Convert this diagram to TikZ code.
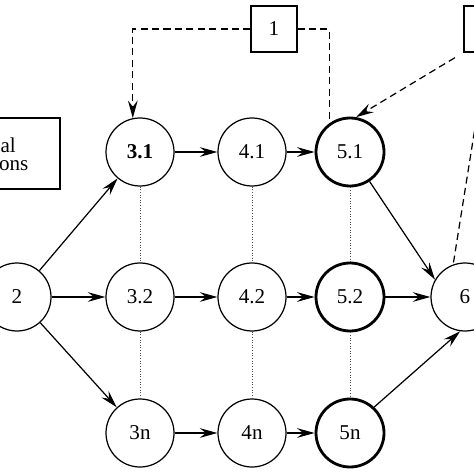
\documentclass[tikz,border=0pt]{standalone}
\usepackage{fontspec}
\setmainfont{Liberation Serif}
\usetikzlibrary{arrows.meta}

\begin{document}
\begin{tikzpicture}[node distance={24.6mm}, line width=0.7pt, >={Stealth[length=10pt, width=5.5pt, inset=3.5pt]},
    main/.style = {draw, circle, minimum size=13.6mm, inner sep=0pt, font=\fontsize{12}{13}\selectfont},
    last/.style = {main, line width=1.6pt},
    task/.style = {draw, minimum size=9.2mm, inner sep=0pt, line width=0.6pt, font=\fontsize{12}{13}\selectfont},
    link/.style = {dash pattern=on 4pt off 2.5pt},
    tie/.style = {densely dotted, line width=0.5pt, black!70}]
        \useasboundingbox (0,0) rectangle (9.48,-9.48);
        \node[main](2) at (0.34,-5.94){2};
        \node[main](32)[right of =2]{3.2};
        \node[main](31)[above of =32, node distance=29mm]{\textbf{3.1}};
        \node[main](3n)[below of =32, node distance=27.2mm]{3n};
        \node[main](42)[right of =32, node distance=22.4mm]{4.2};
        \node[main](41)[right of =31, node distance=22.4mm]{4.1};
        \node[main](4n)[right of =3n, node distance=22.4mm]{4n};
        \node[last](52)[right of =42, node distance=19.6mm]{5.2};
        \node[last](51)[right of =41, node distance=19.6mm]{5.1};
        \node[last](5n)[right of =4n, node distance=19.6mm]{5n};
        \node[main](6)[right of =52, node distance=23mm]{6};
        \node[task](r1) at (5.48,-0.58){1};
        \node[task](r2) at (9.74,-0.58){};
        \node[draw, line width=0.6pt, minimum width=20mm, minimum height=14.2mm](ops) at (0.2,-3.07){};
        \node[anchor=west, inner sep=0pt, font=\fontsize{12}{13}\selectfont](opsa) at (0,-2.9){al};
        \node[anchor=west, inner sep=0pt, font=\fontsize{12}{13}\selectfont](opsb) at (-0.03,-3.32){ons};

        \draw[->] (2) -- (31);
        \draw[->] (2) -- (32);
        \draw[->] (2) -- (3n);
        \draw[->] (31) -- (41);
        \draw[->] (41) -- (51);
        \draw[->] (32) -- (42);
        \draw[->] (42) -- (52);
        \draw[->] (3n) -- (4n);
        \draw[->] (4n) -- (5n);
        \draw[->] (51) -- (6.150);
        \draw[->] (52) -- (6);
        \draw[->] (5n.47) -- (6.-98);
        \draw[tie] (31) -- (32);
        \draw[tie] (32) -- (3n);
        \draw[tie] (41) -- (42);
        \draw[tie] (42) -- (4n);
        \draw[tie] (51) -- (52);
        \draw[tie] (52) -- (5n);
        \draw[->, link] (r1) -| (31.102);
        \draw[link] (r1) -| (51.126);
        \draw[->, link, shorten <=2mm] (r2.south west) -- (51.80);
        \draw[link] (r2.south) -- (6.110);
    \end{tikzpicture}
\end{document}
